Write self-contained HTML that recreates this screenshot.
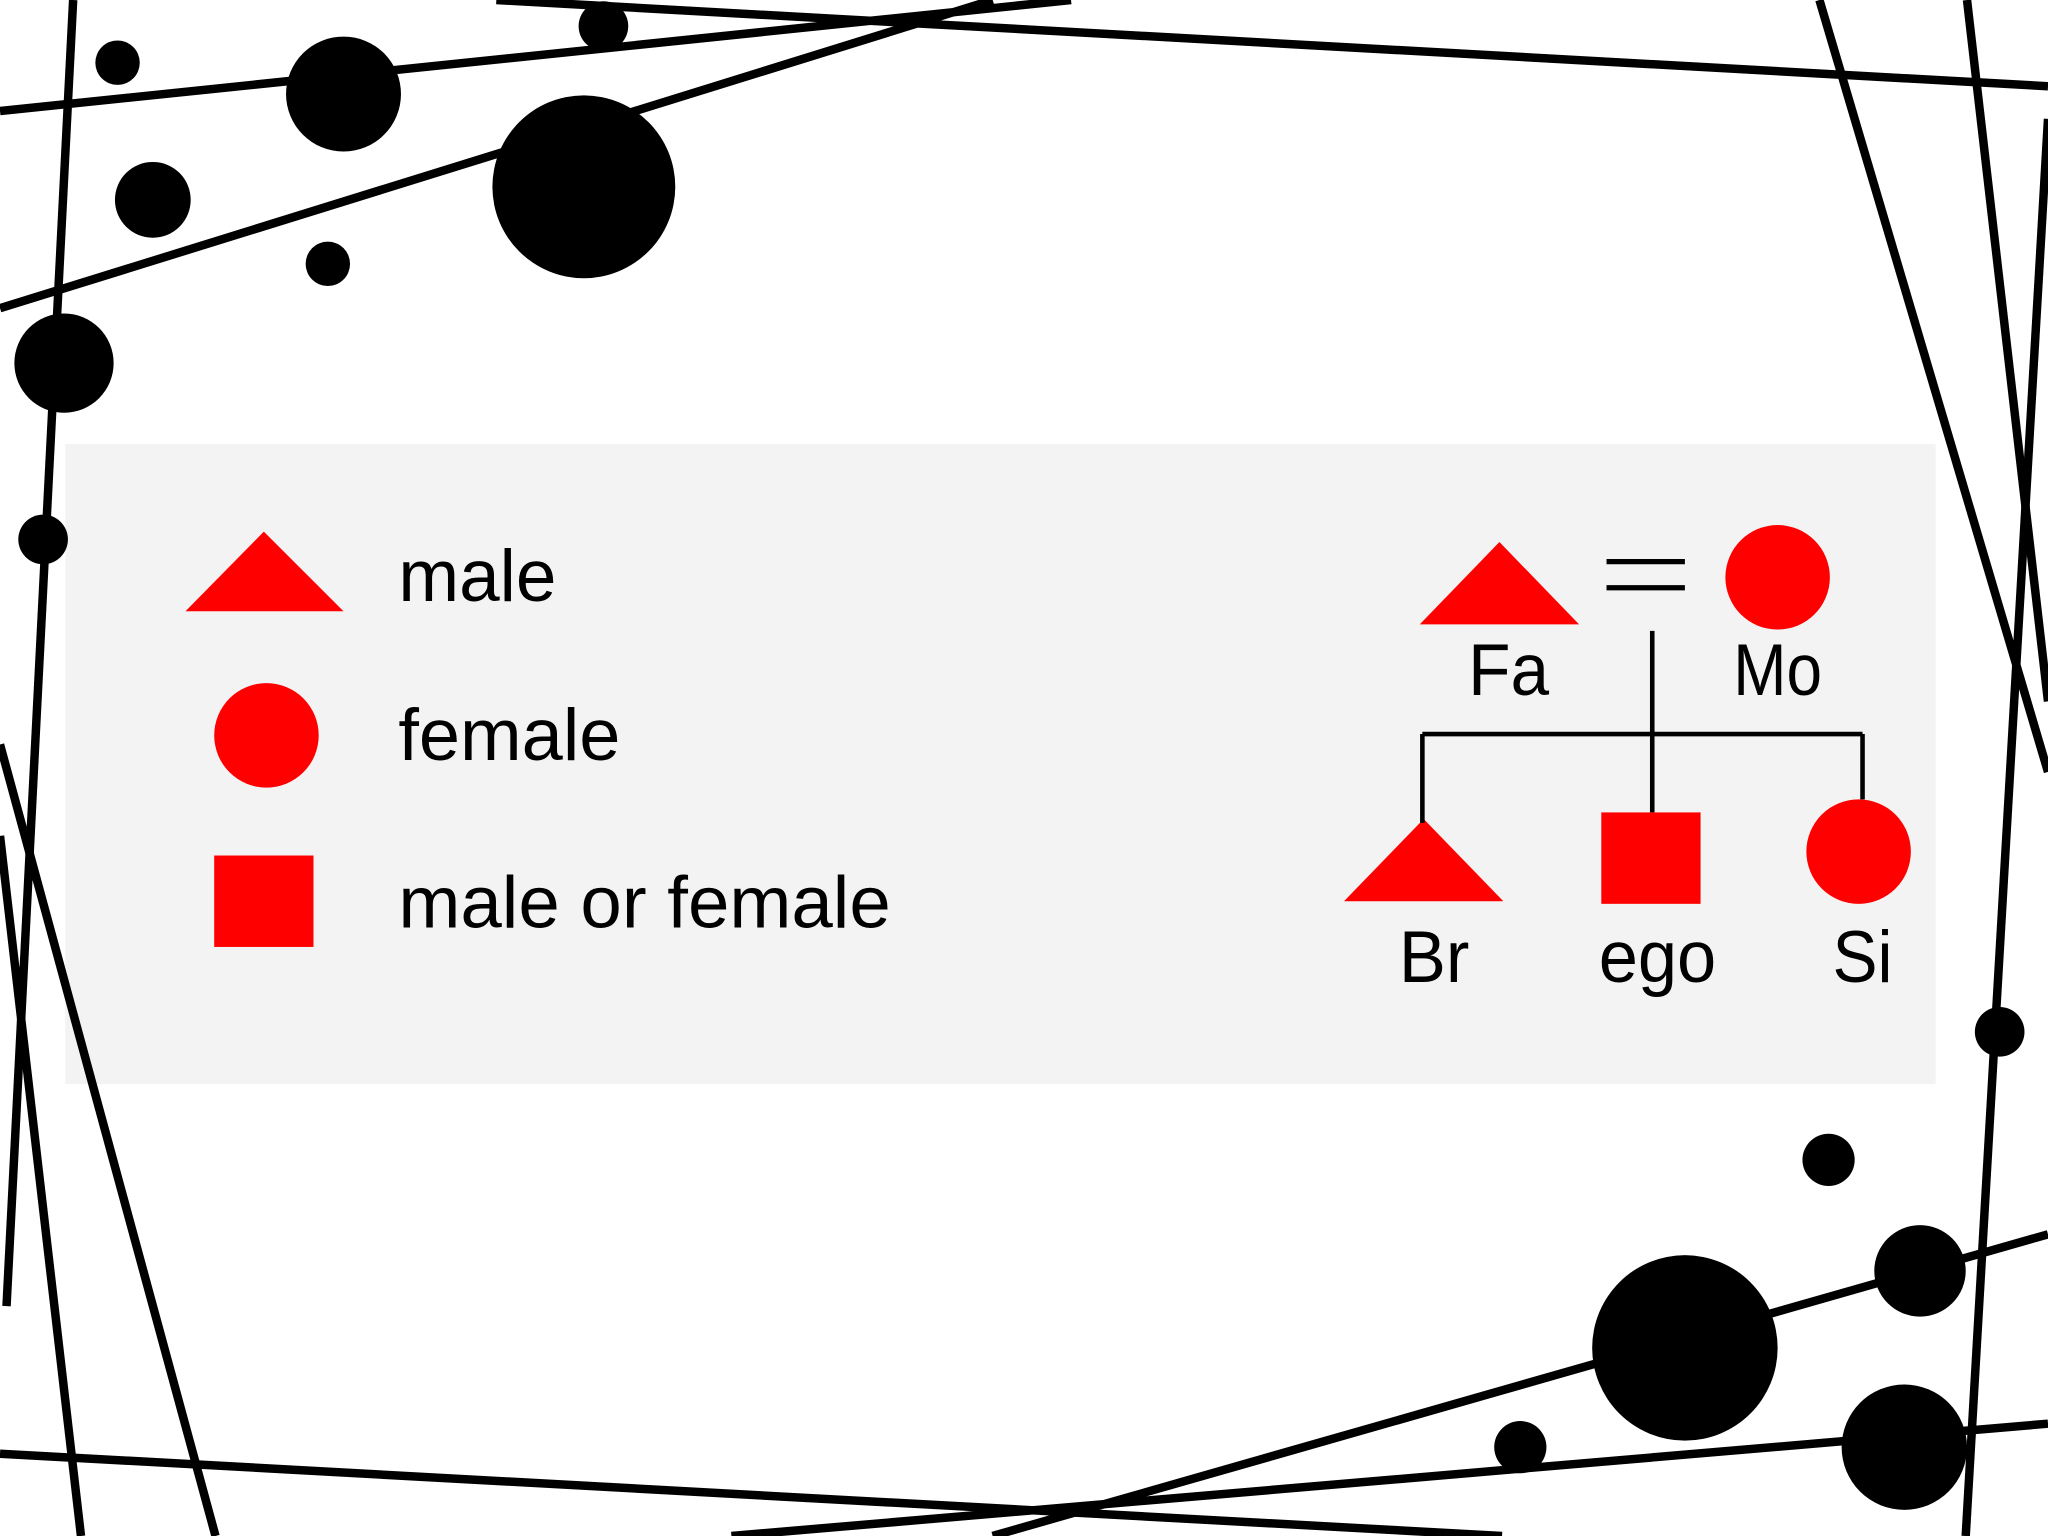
<!DOCTYPE html>
<html><head><meta charset="utf-8"><style>
html,body{margin:0;padding:0;background:#fff}
svg{display:block}
text{font-family:"Liberation Sans",sans-serif;fill:#000}
</style></head><body>
<svg width="2048" height="1536" viewBox="0 0 1568 1176" preserveAspectRatio="none" xmlns="http://www.w3.org/2000/svg">
<rect width="1568" height="1176" fill="#fff"/>
<rect x="50" y="340" width="1432" height="490" fill="#f3f3f3"/>
<g stroke="#000" stroke-width="6.5" fill="none">
<line x1="0" y1="85" x2="820" y2="0"/>
<line x1="0" y1="236" x2="760" y2="0"/>
<line x1="380" y1="0" x2="1568" y2="66"/>
<line x1="56" y1="0" x2="5" y2="1000"/>
<line x1="0" y1="570" x2="165" y2="1176"/>
<line x1="0" y1="640" x2="62" y2="1176"/>
<line x1="0" y1="1113" x2="1150" y2="1176"/>
<line x1="560" y1="1176" x2="1568" y2="1090"/>
<line x1="760" y1="1176" x2="1568" y2="945"/>
<line x1="1393" y1="0" x2="1568" y2="591"/>
<line x1="1506" y1="0" x2="1568" y2="537"/>
<line x1="1568" y1="91" x2="1505" y2="1176"/>
</g>
<g fill="#000">
<circle cx="90" cy="48" r="17"/>
<circle cx="263" cy="72" r="44"/>
<circle cx="462" cy="20" r="19"/>
<circle cx="117" cy="153" r="29"/>
<circle cx="251" cy="202" r="17"/>
<circle cx="447" cy="143" r="70"/>
<circle cx="49" cy="278" r="38"/>
<circle cx="33" cy="413" r="19"/>
<circle cx="1531" cy="790" r="19"/>
<circle cx="1400" cy="888" r="20"/>
<circle cx="1290" cy="1032" r="71"/>
<circle cx="1470" cy="973" r="35"/>
<circle cx="1458" cy="1108" r="48"/>
<circle cx="1164" cy="1108" r="20"/>
</g>
<g fill="#ff0000">
<polygon points="142,468 263,468 202,407"/>
<circle cx="204" cy="563" r="40"/>
<rect x="164" y="655" width="76" height="70"/>
<polygon points="1087,478 1209,478 1148,415"/>
<circle cx="1361" cy="442" r="40"/>
<polygon points="1029,690 1151,690 1090,627"/>
<rect x="1226" y="622" width="76" height="70"/>
<circle cx="1423" cy="652" r="40"/>
</g>
<g stroke="#000" stroke-width="4" fill="none">
<line x1="1230" y1="430" x2="1290" y2="430"/>
<line x1="1230" y1="450" x2="1290" y2="450"/>
</g>
<g stroke="#000" stroke-width="3.5" fill="none">
<line x1="1265" y1="483" x2="1265" y2="622"/>
<line x1="1089" y1="562" x2="1426" y2="562"/>
<line x1="1089" y1="562" x2="1089" y2="630"/>
<line x1="1426" y1="562" x2="1426" y2="612"/>
</g>
<g font-size="56">
<text x="305" y="460" textLength="121" lengthAdjust="spacingAndGlyphs">male</text>
<text x="305" y="582" textLength="170" lengthAdjust="spacingAndGlyphs">female</text>
<text x="305" y="710" textLength="377" lengthAdjust="spacingAndGlyphs">male or female</text>
<text x="1124" y="532" textLength="62" lengthAdjust="spacingAndGlyphs">Fa</text>
<text x="1327" y="532" textLength="68" lengthAdjust="spacingAndGlyphs">Mo</text>
<text x="1071" y="752" textLength="54" lengthAdjust="spacingAndGlyphs">Br</text>
<text x="1224" y="752" textLength="90" lengthAdjust="spacingAndGlyphs">ego</text>
<text x="1403" y="752" textLength="46" lengthAdjust="spacingAndGlyphs">Si</text>
</g>
</svg>
</body></html>
